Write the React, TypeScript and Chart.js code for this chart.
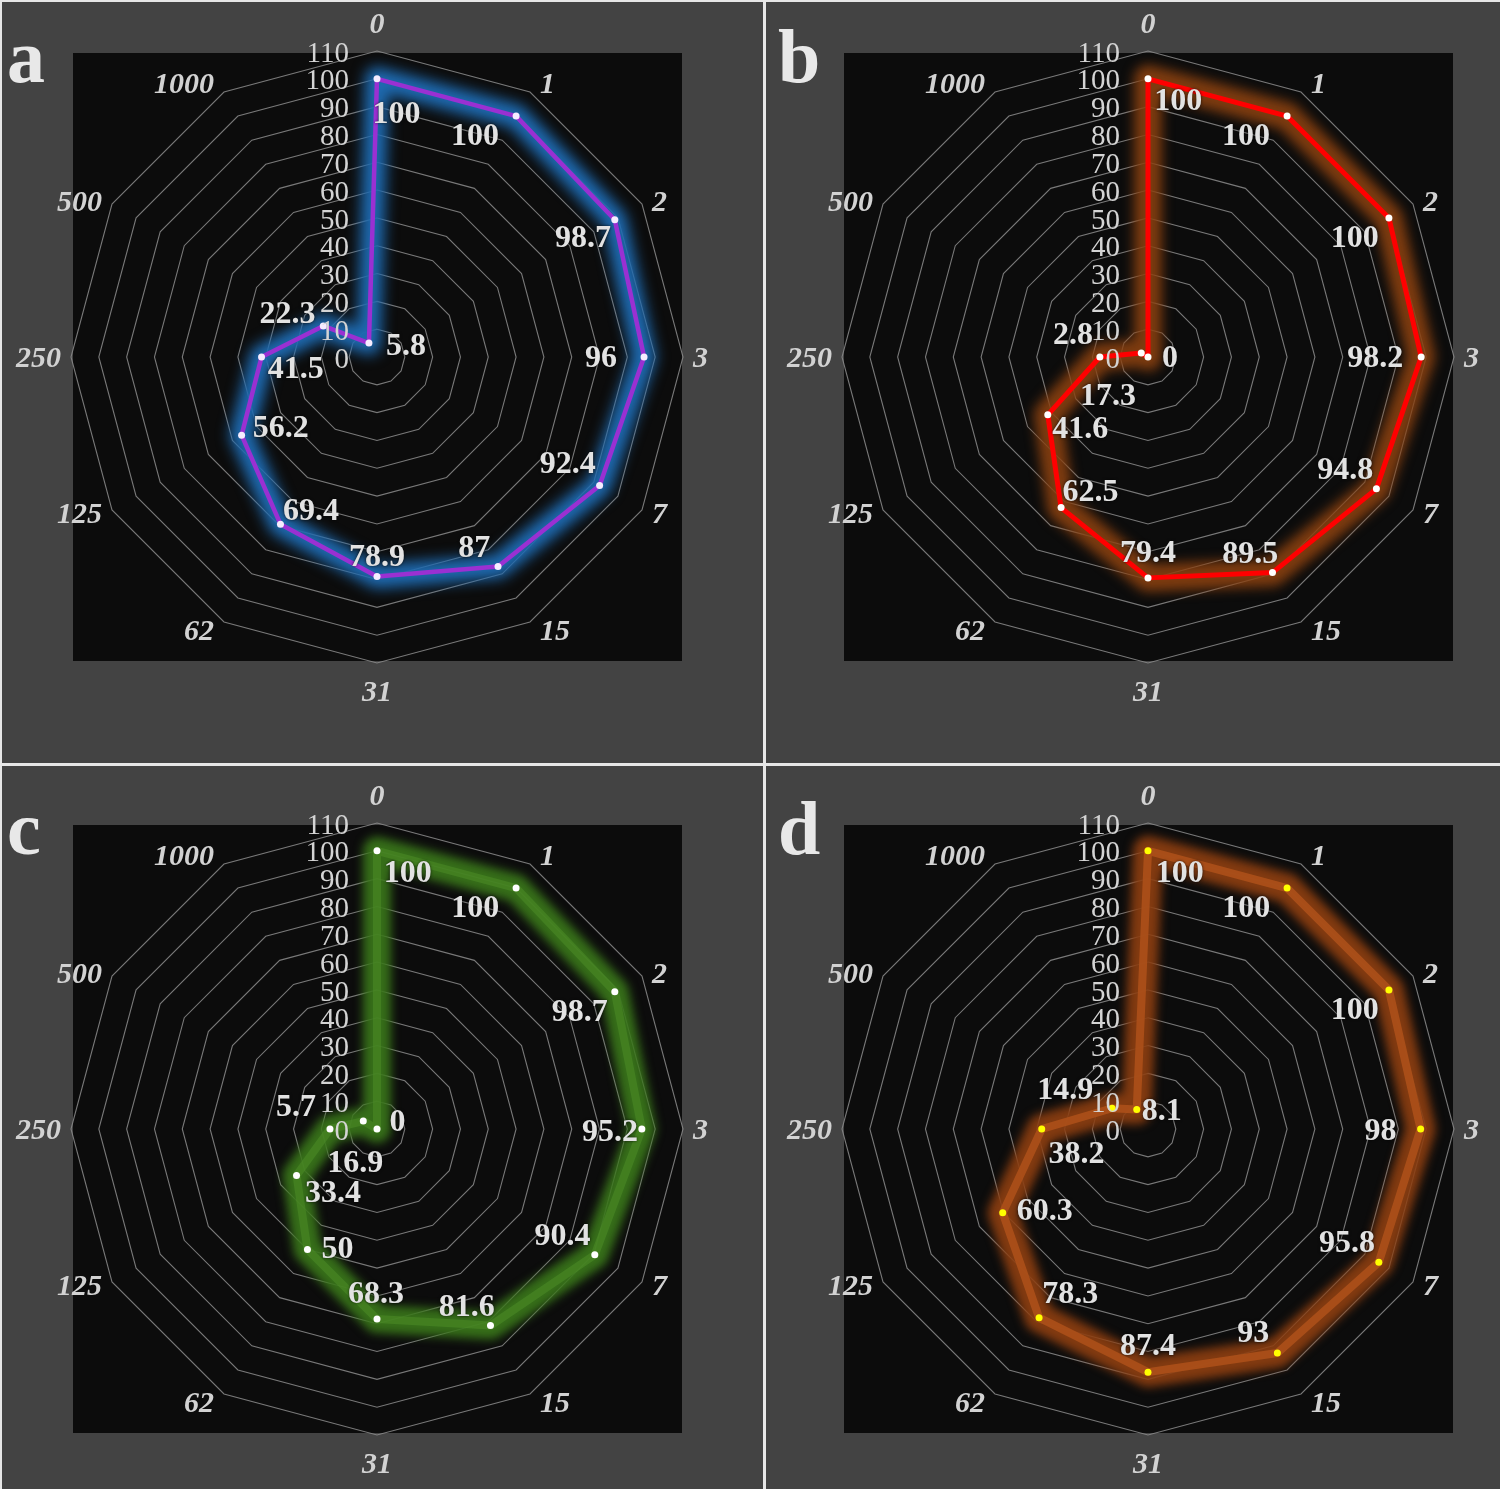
import React, { useEffect, useRef } from 'react';
import { Chart, registerables } from 'chart.js';

Chart.register(...registerables);

// ---------- data ----------
const categories = ['0', '1', '2', '3', '7', '15', '31', '62', '125', '250', '500', '1000'];
const radialTicks = [0, 10, 20, 30, 40, 50, 60, 70, 80, 90, 100, 110];

const seriesA = [100, 100, 98.7, 96, 92.4, 87, 78.9, 69.4, 56.2, 41.5, 22.3, 5.8];
const seriesB = [100, 100, 100, 98.2, 94.8, 89.5, 79.4, 62.5, 41.6, 17.3, 2.8, 0];
const seriesC = [100, 100, 98.7, 95.2, 90.4, 81.6, 68.3, 50, 33.4, 16.9, 5.7, 0];
const seriesD = [100, 100, 100, 98, 95.8, 93, 87.4, 78.3, 60.3, 38.2, 14.9, 8.1];

const panelLetters = ['a', 'b', 'c', 'd'];

// data-label alignment (degrees, 0 = right, 90 = down) and offset from the point
const labelAlignA = [[60, 39], [156, 45], [152, 36], [180, 43], [215, 39], [220, 31], [270, 21], [334, 34], [348, 40], [18, 36], [200, 38], [3, 37]];
const labelAlignB = [[35, 37], [156, 45], [151, 39], [180, 46], [213, 37], [222, 30], [270, 26], [330, 34], [22, 35], [78, 39], [196, 71], [0, 22]];
const labelAlignC = [[34, 37], [155, 45], [151, 40], [176, 32], [212, 38], [220, 31], [268, 26], [356, 30], [24, 40], [52, 41], [193, 69], [339, 22]];
const labelAlignD = [[33, 38], [155, 45], [151, 39], [179, 40], [213, 38], [221, 32], [270, 27], [321, 40], [356, 42], [34, 42], [203, 51], [1, 25]];

// ---------- styles ----------
const SERIF = '"Liberation Serif", "Times New Roman", serif';
const PANEL_BG = '#434343';
const PLOT_BG = '#0c0c0c';

type PanelCfg = {
  letter: string;
  values: number[];
  align: number[][];
  line: string;
  lineWidth: number;
  glow: string;
  glowWidth: number;
  glowBlur: number;
  pointColor: string;
  left: number;
  top: number;
  width: number;
  height: number;
  cx: number;
  cy: number;
};

const R = 306;

const panels: PanelCfg[] = [
  {
    letter: panelLetters[0], values: seriesA, align: labelAlignA,
    line: '#9a30d2', lineWidth: 4.5, glow: 'rgba(30,106,176,1)', glowWidth: 24, glowBlur: 7,
    pointColor: '#f6ecff', left: 2, top: 2, width: 761, height: 761, cx: 375, cy: 355,
  },
  {
    letter: panelLetters[1], values: seriesB, align: labelAlignB,
    line: '#ff0000', lineWidth: 5, glow: 'rgba(138,64,16,0.9)', glowWidth: 28, glowBlur: 6,
    pointColor: '#ffffff', left: 766, top: 2, width: 734, height: 761, cx: 382, cy: 355,
  },
  {
    letter: panelLetters[2], values: seriesC, align: labelAlignC,
    line: 'rgba(76,140,38,0.55)', lineWidth: 8, glow: 'rgba(58,118,26,0.92)', glowWidth: 28, glowBlur: 5,
    pointColor: '#ffffff', left: 2, top: 766, width: 761, height: 723, cx: 375, cy: 363,
  },
  {
    letter: panelLetters[3], values: seriesD, align: labelAlignD,
    line: 'rgba(172,80,26,0.9)', lineWidth: 8, glow: 'rgba(140,62,16,0.92)', glowWidth: 30, glowBlur: 5,
    pointColor: '#ffff00', left: 766, top: 766, width: 734, height: 723, cx: 382, cy: 363,
  },
];

function makeDecor(cfg: PanelCfg) {
  return {
    id: 'decor' + cfg.letter,
    beforeDraw(chart: any) {
      const { ctx, width, height } = chart;
      const r = chart.scales.r;
      const xc = r.xCenter;
      const yc = r.yCenter;
      ctx.save();
      ctx.fillStyle = PANEL_BG;
      ctx.fillRect(0, 0, width, height);
      ctx.fillStyle = PLOT_BG;
      ctx.fillRect(xc - 304, yc - 304, 609, 608);
      ctx.fillStyle = '#e8e8e8';
      ctx.font = `bold 76px ${SERIF}`;
      ctx.textAlign = 'left';
      ctx.textBaseline = 'alphabetic';
      ctx.fillText(cfg.letter, xc - 370, yc - 275);
      ctx.restore();
    },
    beforeDatasetDraw(chart: any, args: any) {
      const ds = chart.data.datasets[args.index];
      if (ds.glowBlur) {
        chart.ctx.save();
        chart.ctx.filter = `blur(${ds.glowBlur}px)`;
      }
    },
    afterDatasetDraw(chart: any, args: any) {
      const ds = chart.data.datasets[args.index];
      if (ds.glowBlur) chart.ctx.restore();
    },
    afterDatasetsDraw(chart: any) {
      const { ctx } = chart;
      const r = chart.scales.r;
      const xc = r.xCenter;
      const yc = r.yCenter;
      const area = r.drawingArea;
      ctx.save();

      // radial tick labels, right aligned left of the vertical axis
      ctx.font = `29px ${SERIF}`;
      ctx.fillStyle = '#d4d4d4';
      ctx.textAlign = 'right';
      ctx.textBaseline = 'middle';
      radialTicks.forEach((v) => {
        const d = r.getDistanceFromCenterForValue(v);
        ctx.fillText(String(v), xc - 28, yc - d + 3);
      });

      // category labels
      ctx.font = `italic bold 30px ${SERIF}`;
      ctx.fillStyle = '#d2d2d2';
      ctx.textAlign = 'center';
      ctx.textBaseline = 'middle';
      categories.forEach((lab, i) => {
        const p = r.getPointPosition(i, area);
        const s = (p.x - xc) / area;
        const c = -(p.y - yc) / area;
        const w = ctx.measureText(lab).width;
        const ox = Math.abs(s) > 0.01 ? Math.sign(s) * (w / 2 + 10) : 0;
        const oy = Math.abs(s) < 0.01 ? -Math.sign(c) * 28 : -c * 11 * Math.abs(c);
        ctx.fillText(lab, p.x + ox, p.y + oy + 2);
      });

      // data labels
      const meta = chart.getDatasetMeta(0);
      ctx.font = `bold 32px ${SERIF}`;
      ctx.fillStyle = '#e2e2e2';
      ctx.shadowColor = 'rgba(0,0,0,0.75)';
      ctx.shadowBlur = 3;
      meta.data.forEach((pt: any, i: number) => {
        const [ang, dist] = cfg.align[i];
        const a = (ang * Math.PI) / 180;
        ctx.fillText(String(cfg.values[i]), pt.x + Math.cos(a) * dist, pt.y + Math.sin(a) * dist + 2);
      });
      ctx.restore();
    },
  };
}

function RadarPanel({ cfg }: { cfg: PanelCfg }) {
  const ref = useRef<HTMLCanvasElement>(null);
  useEffect(() => {
    const canvas = ref.current;
    if (!canvas) return;
    const chart = new Chart(canvas, {
      type: 'radar',
      data: {
        labels: categories,
        datasets: [
          {
            data: cfg.values,
            borderColor: cfg.line,
            borderWidth: cfg.lineWidth,
            borderJoinStyle: 'round',
            fill: false,
            tension: 0,
            pointRadius: 3.5,
            pointBorderWidth: 0,
            pointBackgroundColor: cfg.pointColor,
            clip: false,
          } as any,
          {
            data: cfg.values,
            borderColor: cfg.glow,
            borderWidth: cfg.glowWidth,
            borderJoinStyle: 'round',
            fill: false,
            tension: 0,
            pointRadius: 0,
            glowBlur: cfg.glowBlur,
            clip: false,
          } as any,
        ],
      },
      options: {
        animation: false,
        responsive: false,
        devicePixelRatio: 1,
        layout: {
          padding: {
            left: cfg.cx - R,
            top: cfg.cy - R,
            right: cfg.width - cfg.cx - R,
            bottom: cfg.height - cfg.cy - R,
          },
        },
        plugins: {
          legend: { display: false },
          tooltip: { enabled: false },
        },
        scales: {
          r: {
            min: 0,
            max: 110,
            ticks: { stepSize: 10, display: false },
            pointLabels: { display: false },
            angleLines: { display: false },
            grid: { color: 'rgba(140,140,140,0.85)', lineWidth: 1.1 },
          },
        },
      } as any,
      plugins: [makeDecor(cfg)],
    });
    return () => chart.destroy();
  }, [cfg]);
  return (
    <canvas
      ref={ref}
      width={cfg.width}
      height={cfg.height}
      style={{ position: 'absolute', left: cfg.left, top: cfg.top, width: cfg.width, height: cfg.height }}
    />
  );
}

export default function App() {
  return (
    <div
      style={{
        position: 'absolute',
        left: 0,
        top: 0,
        width: 1500,
        height: 1489,
        overflow: 'hidden',
        background: '#e6e6e6',
      }}
    >
      {panels.map((p) => (
        <RadarPanel key={p.letter} cfg={p} />
      ))}
    </div>
  );
}
